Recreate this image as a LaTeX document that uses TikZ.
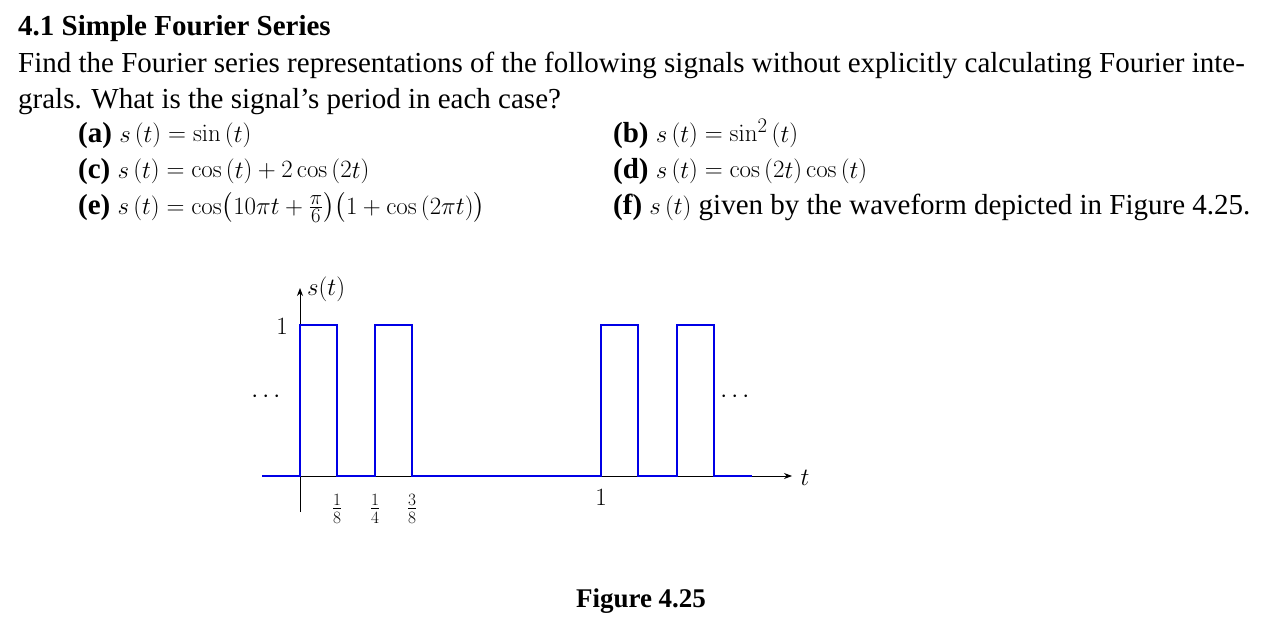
\documentclass[tikz,border=0pt]{standalone}
\usepackage{amsmath}
\usepackage[no-math]{fontspec}
\setmainfont{Liberation Serif}
\usetikzlibrary{arrows.meta}
\begin{document}
\begin{tikzpicture}[x=1pt,y=-1pt,
  txt/.style={anchor=base west,inner sep=0pt,font=\fontsize{29}{34}\selectfont},
  lbl/.style={inner sep=0pt,font=\fontsize{27}{32}\selectfont},
  sig/.style={draw={rgb,255:red,0;green,0;blue,230},line width=2.8pt}]
\useasboundingbox (0,0) rectangle (1288,642);
\node[txt,font=\fontsize{29}{34}\selectfont\bfseries] (title) at (18,36) {4.1 Simple Fourier Series};
\node[txt] (l1) at (18,73) {Find the Fourier series representations of the following signals without explicitly calculating Fourier inte-};
\node[txt] (l2) at (18,108) {grals. What is the signal’s period in each case?};
\node[txt] (a) at (78,142) {\textbf{(a)} $s\left(t\right)=\sin\left(t\right)$};
\node[txt] (c) at (78,178) {\textbf{(c)} $s\left(t\right)=\cos\left(t\right)+2\cos\left(2t\right)$};
\node[txt] (e) at (78,214) {\textbf{(e)} $s\left(t\right)=\cos\bigl(10\pi t+\frac{\pi}{6}\bigr)\bigl(1+\cos\left(2\pi t\right)\bigr)$};
\node[txt] (b) at (613,142) {\textbf{(b)} $s\left(t\right)=\sin^2\left(t\right)$};
\node[txt] (d) at (613,178) {\textbf{(d)} $s\left(t\right)=\cos\left(2t\right)\cos\left(t\right)$};
\node[txt] (f) at (613,214) {\textbf{(f)} $s\left(t\right)$ given by the waveform depicted in Figure 4.25.};
% axes
\coordinate (o) at (300,476);
\coordinate (yb) at (300,512);
\coordinate (yt) at (300,288);
\coordinate (xl) at (262,476);
\coordinate (xr) at (792,476);
\draw[line width=0.8pt,-{Stealth[length=8pt,width=6pt]}] (yb) -- (yt);
\draw[line width=0.8pt,-{Stealth[length=8pt,width=6pt]}] (xl) -- (xr);
\draw[sig,line join=miter] (262,476) -- (300,476) -- (300,325) -- (337,325) -- (337,476) -- (375,476) -- (375,325) -- (412,325) -- (412,476) -- (601,476) -- (601,325) -- (638,325) -- (638,476) -- (677,476) -- (677,325) -- (714,325) -- (714,476) -- (752,476);
\node[lbl,anchor=south west] (s) at (307,302) {$s(t)$};
\node[lbl] (t) at (805,478) {$t$};
\node[lbl] (one) at (282,326) {$1$};
\node[lbl] (dl) at (268,397) {$\cdots$};
\node[lbl] (dr) at (737,397) {$\cdots$};
\node[lbl] (t1) at (337,509) {$\frac{1}{8}$};
\node[lbl] (t2) at (375,509) {$\frac{1}{4}$};
\node[lbl] (t3) at (412,509) {$\frac{3}{8}$};
\node[lbl] (t4) at (601,497) {$1$};
\node[lbl,font=\fontsize{27}{32}\selectfont\bfseries] (cap) at (641,601) {Figure 4.25};
\end{tikzpicture}
\end{document}
